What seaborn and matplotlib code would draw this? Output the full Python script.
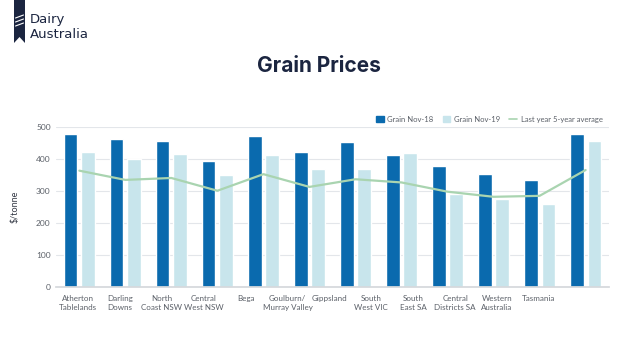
import numpy as np
import pandas as pd
import matplotlib
matplotlib.use("Agg")
import matplotlib.pyplot as plt
import matplotlib.patches as mpatches
from matplotlib.lines import Line2D
import seaborn as sns

# ── Data ─────────────────────────────────────────────────────────────────────
regions = [
    "Atherton\nTablelands", "Darling\nDowns", "North\nCoast NSW", "Central\nWest NSW",
    "Bega", "Goulburn/\nMurray Valley", "Gippsland", "South\nWest VIC",
    "South\nEast SA", "Central\nDistricts SA", "Western\nAustralia", "Tasmania",
]
grain_nov18 = [478, 463, 458, 393, 474, 423, 453, 413, 380, 354, 335, 478]
grain_nov19 = [423, 401, 416, 350, 413, 368, 368, 419, 290, 276, 260, 458]
avg_5yr     = [364, 335, 341, 301, 353, 313, 337, 327, 298, 282, 285, 366]
y_ticks     = [0, 100, 200, 300, 400, 500]

# ── Palette ──────────────────────────────────────────────────────────────────
C_DARK  = "#0a6aae"
C_LIGHT = "#c8e5ec"
C_LINE  = "#a9d4b0"
C_NAVY  = "#1b2540"
C_GRID  = "#e3e6ea"
C_TEXT  = "#5b6068"

sns.set_theme(style="white")
plt.rcParams["font.family"] = ["Lato", "DejaVu Sans"]

idx = [f"c{i}" for i in range(len(regions))]
df = pd.DataFrame({
    "cat": idx * 2,
    "price": grain_nov18 + grain_nov19,
    "series": ["Grain Nov-18"] * len(idx) + ["Grain Nov-19"] * len(idx),
})

fig = plt.figure(figsize=(6.4, 3.6), dpi=100)
fig.patch.set_facecolor("white")
ax = fig.add_axes([0.088, 0.2036, 0.863, 0.4428])

sns.barplot(data=df, x="cat", y="price", hue="series", order=idx,
            palette=[C_DARK, C_LIGHT], width=0.76, gap=0.22,
            saturation=1, legend=False, ax=ax, zorder=2)
sns.lineplot(x=np.arange(len(idx)), y=avg_5yr, color=C_LINE, linewidth=1.6,
             ax=ax, zorder=3)

ax.set_xlim(-0.5, len(idx) - 0.5)
ax.set_ylim(0, 500)
ax.set_yticks(y_ticks)
ax.set_yticklabels([str(t) for t in y_ticks], fontsize=6, color=C_TEXT)
ax.grid(True, axis="y", color=C_GRID, linewidth=0.8, zorder=0)
ax.set_axisbelow(True)
for s in ["top", "right", "left"]:
    ax.spines[s].set_visible(False)
ax.spines["bottom"].set_color("#d5d8dc")
ax.tick_params(axis="both", length=0, pad=4)

# category labels drift a little left of the groups, as in the original
label_pos = [(78 + 41.9 * i - 79.5) / 46.0 for i in range(len(regions))]
ax.set_xticks(label_pos)
ax.set_xticklabels(regions, fontsize=5.8, color=C_TEXT, linespacing=1.3)
ax.tick_params(axis="x", pad=6)
ax.set_xlabel("")
ax.set_ylabel("$/tonne", fontsize=6.5, color="#333844", labelpad=12)

# ── Legend ───────────────────────────────────────────────────────────────────
handles = [
    mpatches.Patch(color=C_DARK, label="Grain Nov-18"),
    mpatches.Patch(color=C_LIGHT, label="Grain Nov-19"),
    Line2D([0], [0], color=C_LINE, lw=1.2, label="Last year 5-year average"),
]
ax.legend(handles=handles, loc="lower right", bbox_to_anchor=(0.995, 1.01),
          ncol=3, frameon=False, fontsize=5.5, labelcolor=C_TEXT,
          handlelength=1.0, handleheight=0.9, handletextpad=0.5,
          columnspacing=1.2, borderaxespad=0)

# ── Title and logo ───────────────────────────────────────────────────────────
fig.text(0.499, 0.818, "Grain Prices", ha="center", va="center",
         fontsize=15, fontweight="bold", color=C_NAVY,
         family=["Inter", "DejaVu Sans"])

ribbon = mpatches.Polygon(
    [(14, 360), (25, 360), (25, 317), (19.5, 323), (14, 317)],
    closed=True, transform=None, facecolor=C_NAVY, edgecolor="none")
fig.patches.append(ribbon)
for k in range(3):
    yy = 344 - k * 4
    fig.lines.append(Line2D([15.5, 23.5], [yy - 2, yy + 1], transform=None,
                            color="white", lw=0.8))
fig.text(30 / 640, 1 - 20 / 360, "Dairy", fontsize=9.5, color=C_NAVY,
         va="center", ha="left", family=["DejaVu Sans"])
fig.text(30 / 640, 1 - 35 / 360, "Australia", fontsize=9.5, color=C_NAVY,
         va="center", ha="left", family=["DejaVu Sans"])

fig.savefig("out.png", dpi=100, facecolor="white")
